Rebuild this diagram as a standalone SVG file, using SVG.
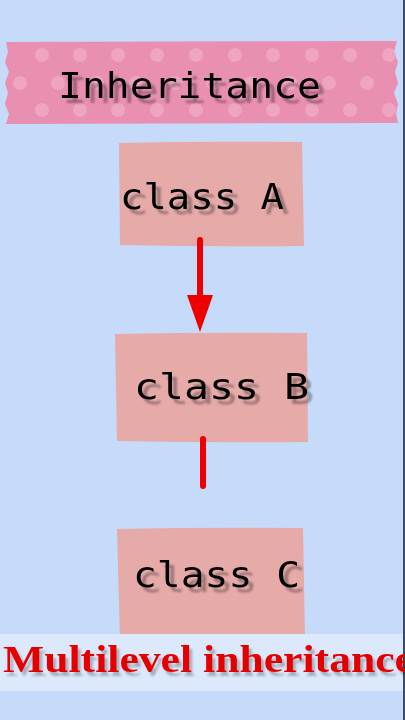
<svg xmlns="http://www.w3.org/2000/svg" width="405" height="720" viewBox="0 0 405 720">
<defs>
<style>
.mono{font-family:"DejaVu Sans Mono","Liberation Mono",monospace;font-size:35px;fill:#000;filter:url(#sh)}
.box{fill:#e6aaa9}
.dot{fill:#f2acc6;opacity:0.75}
.wire{stroke:#ee0000;stroke-width:6;stroke-linecap:round;fill:none}
.ban{font-family:"Liberation Serif","Times New Roman",serif;font-weight:bold;font-size:38px;fill:#e50000;filter:url(#sh2)}
</style>
<filter id="sh" x="-10%" y="-30%" width="130%" height="170%">
<feDropShadow dx="5" dy="5" stdDeviation="0.8" flood-color="#000" flood-opacity="0.32"/>
</filter>
<filter id="sh2" x="-10%" y="-30%" width="130%" height="170%">
<feDropShadow dx="3" dy="4" stdDeviation="0.8" flood-color="#000" flood-opacity="0.25"/>
</filter>
</defs>
<rect width="405" height="720" fill="#c6dafa"/>
<rect x="403" y="0" width="2" height="720" fill="#3c4a66"/>

<g id="title">
<path d="M6,42 L397,41 L394,52 L398,62 L395,72 L398,83 L394,93 L398,104 L396,114 L398,123 L6,124 L9,114 L5,104 L8,93 L5,83 L9,72 L5,62 L8,52 Z" fill="#e98fb1"/>
<g class="dot">
<circle cx="42" cy="55" r="7"/><circle cx="80" cy="55" r="7"/><circle cx="118" cy="55" r="7"/><circle cx="157" cy="55" r="7"/><circle cx="196" cy="55" r="7"/><circle cx="235" cy="55" r="7"/><circle cx="273" cy="55" r="7"/><circle cx="312" cy="55" r="7"/><circle cx="350" cy="55" r="7"/><circle cx="389" cy="55" r="7"/>
<circle cx="20" cy="83" r="7"/><circle cx="58" cy="83" r="7"/><circle cx="97" cy="83" r="7"/><circle cx="136" cy="83" r="7"/><circle cx="175" cy="83" r="7"/><circle cx="213" cy="83" r="7"/><circle cx="251" cy="83" r="7"/><circle cx="290" cy="83" r="7"/><circle cx="329" cy="83" r="7"/><circle cx="367" cy="83" r="7"/>
<circle cx="42" cy="110" r="7"/><circle cx="80" cy="110" r="7"/><circle cx="118" cy="110" r="7"/><circle cx="157" cy="110" r="7"/><circle cx="196" cy="110" r="7"/><circle cx="235" cy="110" r="7"/><circle cx="273" cy="110" r="7"/><circle cx="312" cy="110" r="7"/><circle cx="350" cy="110" r="7"/><circle cx="389" cy="110" r="7"/>
</g>
<text class="mono" x="58" y="98" textLength="263" lengthAdjust="spacingAndGlyphs" font-size="36">Inheritance</text>
</g>

<g id="classA">
<path class="box" d="M119,143 Q200,141 302,142 L304,246 Q210,247 120,245 Z"/>
<text class="mono" x="120" y="209" textLength="164" lengthAdjust="spacingAndGlyphs">class A</text>
</g>

<g id="classB">
<path class="box" d="M115,334 Q210,332 307,333 L308,442 Q210,443 117,441 Z"/>
<text class="mono" x="134" y="399" textLength="175" lengthAdjust="spacingAndGlyphs">class B</text>
</g>

<g id="classC">
<path class="box" d="M117,529 Q210,527 303,528 L305,640 L120,640 Z"/>
<text class="mono" x="133" y="587" textLength="167" lengthAdjust="spacingAndGlyphs">class C</text>
</g>

<g id="connectors">
<line class="wire" x1="200" y1="240" x2="200" y2="298"/>
<path d="M187,295 L213,295 L200,332 Z" fill="#ee0000"/>
<line class="wire" x1="203" y1="439" x2="203" y2="486"/>
</g>

<g id="banner">
<rect x="0" y="634" width="403" height="57" fill="#dce8fb"/>
<text class="ban" x="3" y="672" textLength="411" lengthAdjust="spacingAndGlyphs">Multilevel inheritance</text>
</g>
</svg>
